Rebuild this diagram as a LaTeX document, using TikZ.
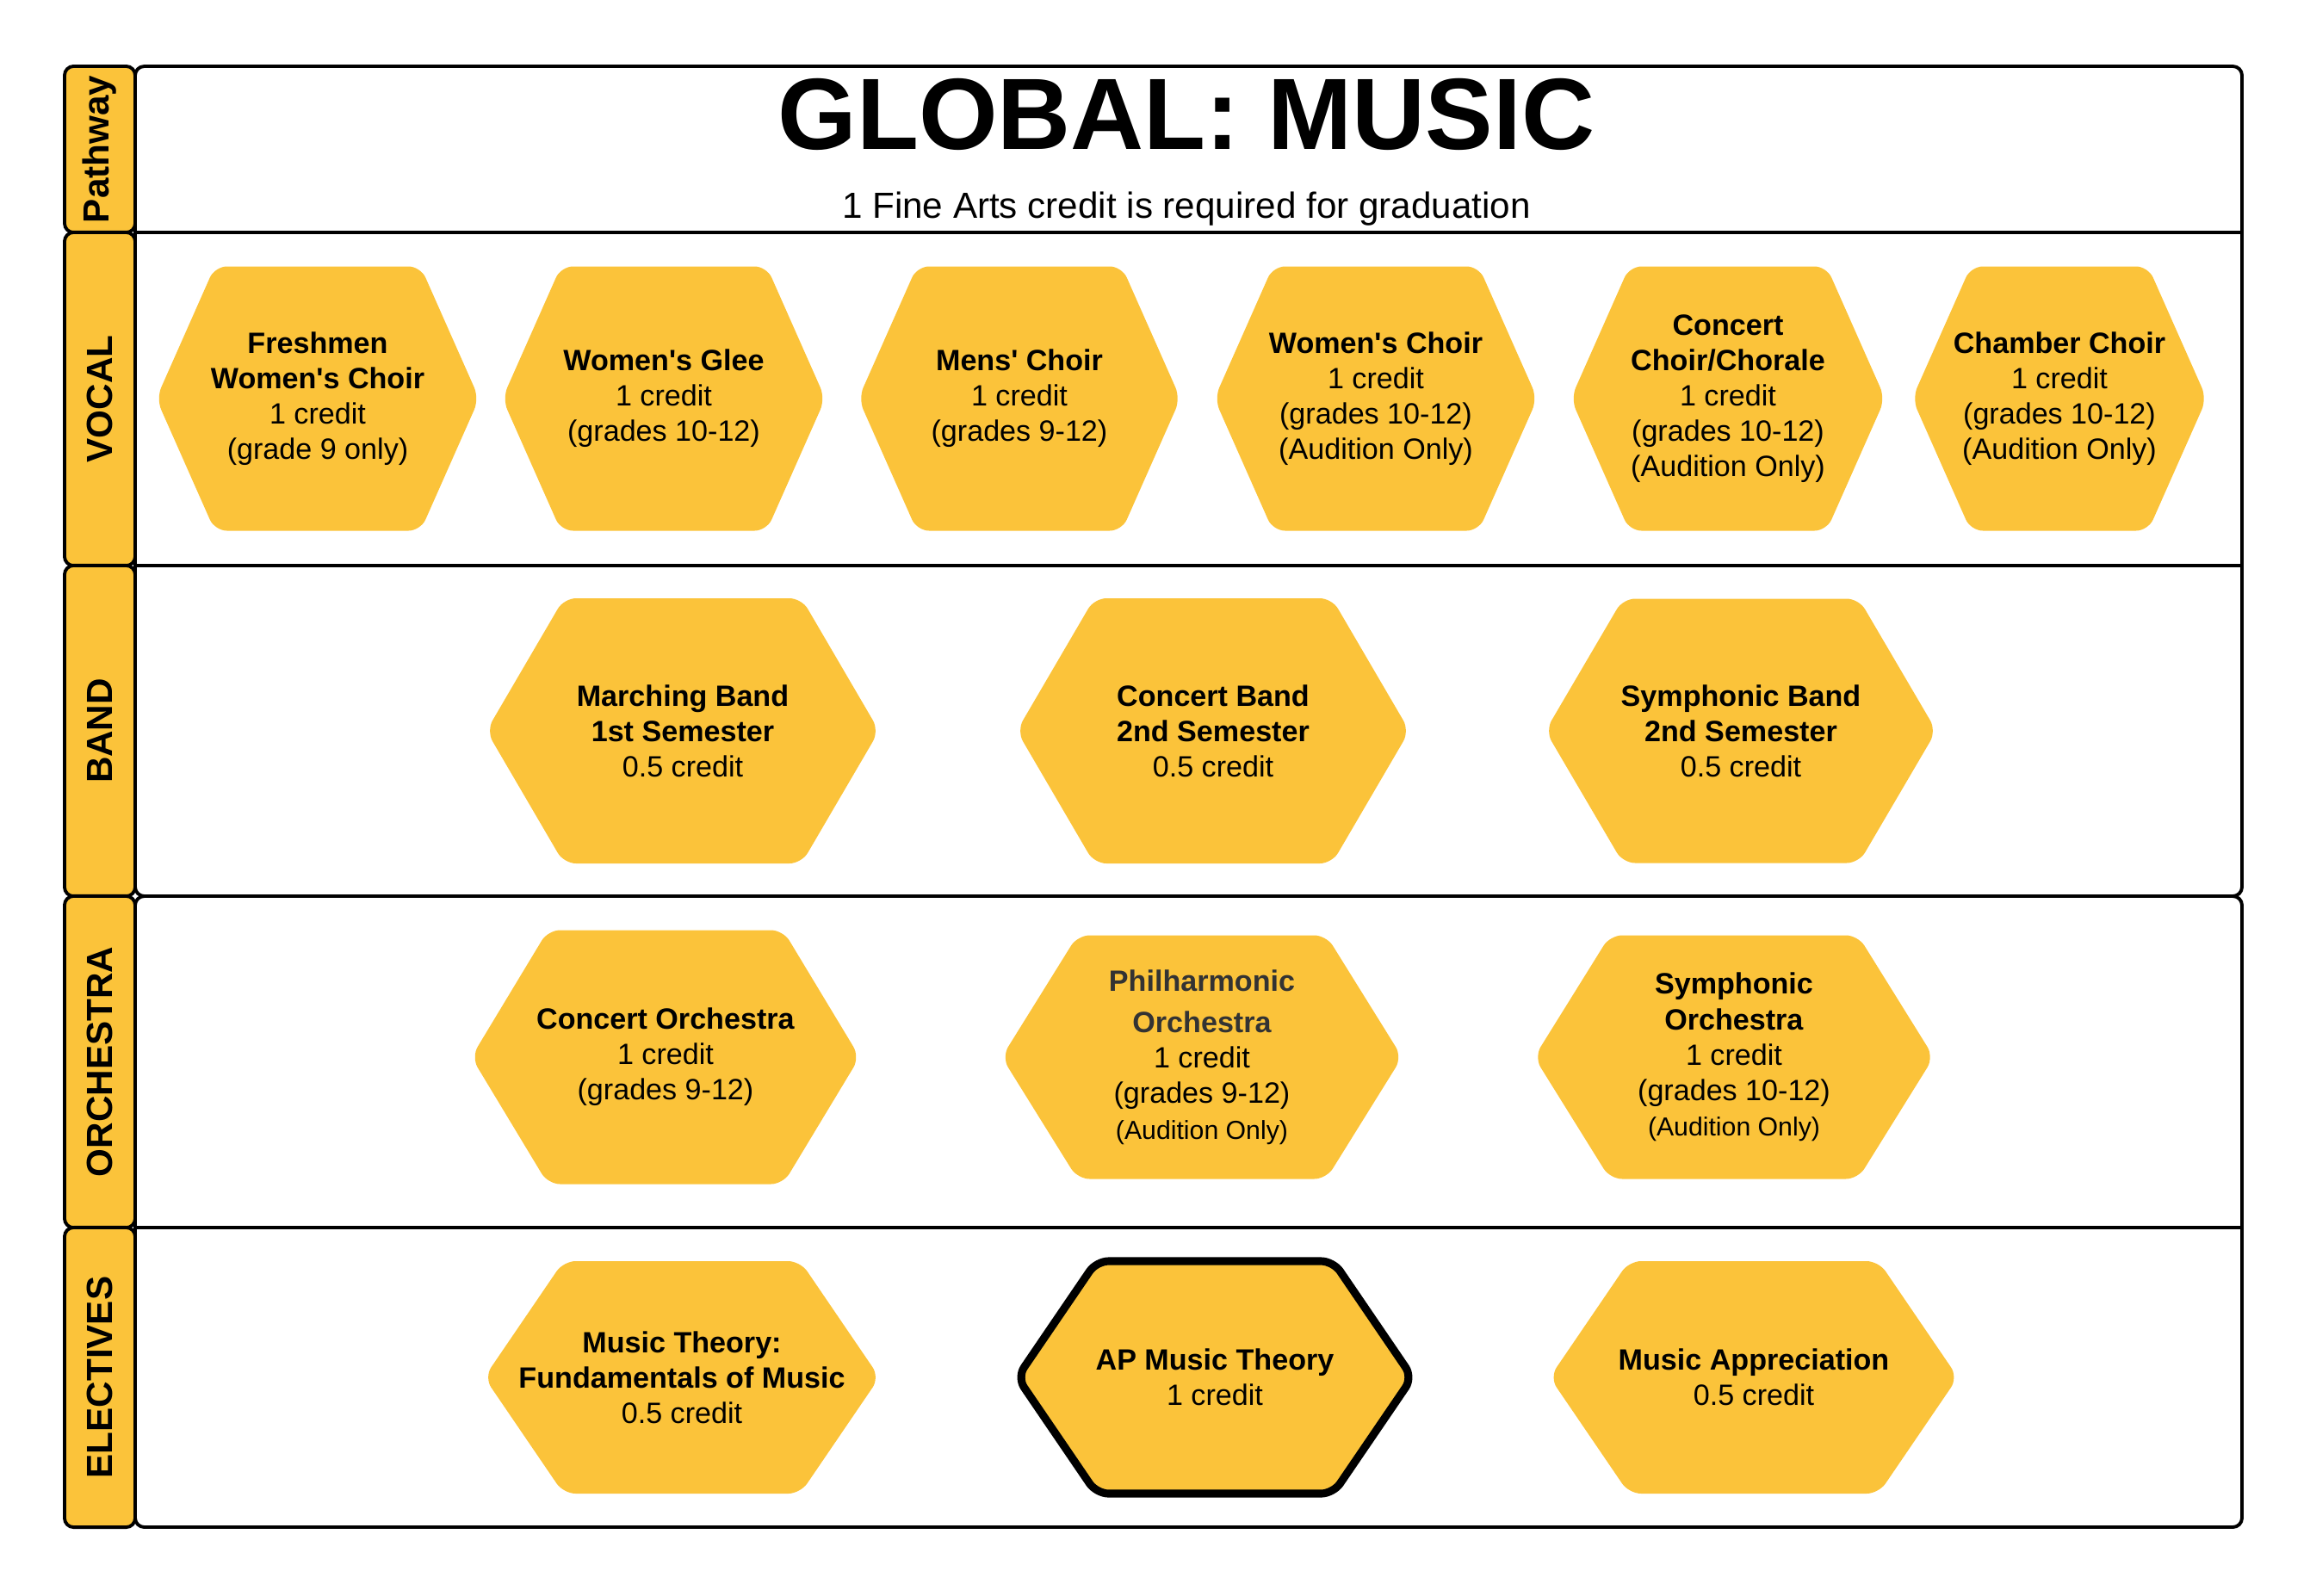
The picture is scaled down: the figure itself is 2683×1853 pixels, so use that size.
\documentclass[tikz,border=0pt]{standalone}
\usepackage{fontspec}
\setmainfont{Liberation Sans}
\definecolor{hexyellow}{RGB}{251,195,58}
\tikzset{
  lane/.style={draw,fill=hexyellow,line width=1.1pt,rounded corners=3pt,rotate=90,
    minimum height=0.82cm,inner sep=0pt,font=\bfseries\fontsize{12}{14}\selectfont},
  tablebox/.style={draw,line width=1.1pt,rounded corners=3pt},
  hexfill/.style={fill=hexyellow,rounded corners=4pt},
  hextext/.style={align=center,inner sep=0pt,font=\fontsize{9.7}{11.7}\selectfont},
}
% course hexagon: [style]{name}{cx}{cy}{width}{height}{inset}{text}
\newcommand{\course}[8][]{%
  \path[hexfill,#1] ({#3-#5/2},#4) -- ({#3-#5/2+#7},{#4-#6/2}) -- ({#3+#5/2-#7},{#4-#6/2})
    -- ({#3+#5/2},#4) -- ({#3+#5/2-#7},{#4+#6/2}) -- ({#3-#5/2+#7},{#4+#6/2}) -- cycle;
  \node[hextext] (#2) at (#3,#4) {#8};
}
\newcommand{\audonly}{{\fontsize{8.6}{10}\selectfont(Audition Only)}}
\newcommand{\ap}{\textquotesingle}

\begin{document}
\begin{tikzpicture}[x=0.01cm,y=-0.01cm]
  \useasboundingbox (0,0) rectangle (2683,1853);

  % the two tables
  \draw[tablebox] (157,77) rectangle (2604,1041);
  \draw[tablebox] (157,1041) rectangle (2604,1774);
  \foreach \y in {270,657,1426} {
      \draw[line width=1.1pt] (157,\y) -- (2604,\y);
  }

  % lane labels
  \node[lane,minimum width=1.93cm] (pathway) at (116,173.5) {Pathway};
  \node[lane,minimum width=3.87cm] (vocal) at (116,463.5) {VOCAL};
  \node[lane,minimum width=3.84cm] (band) at (116,849) {BAND};
  \node[lane,minimum width=3.85cm] (orchestra) at (116,1233.5) {ORCHESTRA};
  \node[lane,minimum width=3.48cm] (electives) at (116,1600) {ELECTIVES};

  % heading
  \node[anchor=base,font=\bfseries\fontsize{33.5}{40}\selectfont] (title) at (1378,173) {GLOBAL: MUSIC};
  \node[anchor=base,font=\fontsize{12}{14}\selectfont] (subtitle) at (1378,253) {1 Fine Arts credit is required for graduation};

  % VOCAL
  \course{frosh}{369}{463}{375}{307}{68}{\textbf{Freshmen}\\\textbf{Women\ap s Choir}\\1 credit\\(grade 9 only)}
  \course{glee}{771}{463}{375}{307}{68}{\textbf{Women\ap s Glee}\\1 credit\\(grades 10-12)}
  \course{mens}{1184}{463}{374}{307}{68}{\textbf{Mens\ap\ Choir}\\1 credit\\(grades 9-12)}
  \course{womens}{1598}{463}{375}{307}{68}{\textbf{Women\ap s Choir}\\1 credit\\(grades 10-12)\\(Audition Only)}
  \course{chorale}{2007}{463}{365}{307}{68}{\textbf{Concert}\\\textbf{Choir/Chorale}\\1 credit\\(grades 10-12)\\(Audition Only)}
  \course{chamber}{2392}{463}{342}{307}{68}{\textbf{Chamber Choir}\\1 credit\\(grades 10-12)\\(Audition Only)}

  % BAND
  \course{marching}{793}{849}{456}{308}{90}{\textbf{Marching Band}\\\textbf{1st Semester}\\0.5 credit}
  \course{concband}{1409}{849}{456}{308}{90}{\textbf{Concert Band}\\\textbf{2nd Semester}\\0.5 credit}
  \course{symband}{2022}{849}{454}{307}{90}{\textbf{Symphonic Band}\\\textbf{2nd Semester}\\0.5 credit}

  % ORCHESTRA
  \course{concorch}{773}{1228}{451}{295}{89}{\textbf{Concert Orchestra}\\1 credit\\(grades 9-12)}
  \course{philorch}{1396}{1228}{465}{283}{88}{{\color{black!80}\bfseries Philharmonic}\\[2pt]{\color{black!80}\bfseries Orchestra}\\1 credit\\(grades 9-12)\\\audonly}
  \course{symorch}{2014}{1228}{464}{283}{88}{\textbf{Symphonic}\\\textbf{Orchestra}\\1 credit\\(grades 10-12)\\\audonly}

  % ELECTIVES
  \course{theory}{792}{1600}{459}{270}{92}{\textbf{Music Theory:}\\\textbf{Fundamentals of Music}\\0.5 credit}
  \course[draw,line width=2.6pt,line join=round]{aptheory}{1411}{1600}{459}{270}{92}{\textbf{AP Music Theory}\\1 credit}
  \course{apprec}{2037}{1600}{474}{270}{92}{\textbf{Music Appreciation}\\0.5 credit}
\end{tikzpicture}
\end{document}
